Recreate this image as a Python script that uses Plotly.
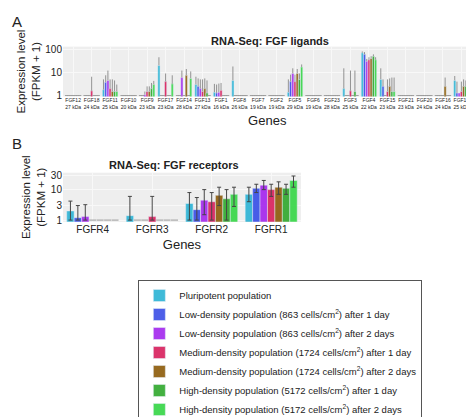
import plotly.graph_objects as go

series = ["Pluripotent population",
          "Low-density population (863 cells/cm<sup>2</sup>) after 1 day",
          "Low-density population (863 cells/cm<sup>2</sup>) after 2 days",
          "Medium-density population (1724 cells/cm<sup>2</sup>) after 1 day",
          "Medium-density population (1724 cells/cm<sup>2</sup>) after 2 days",
          "High-density population (5172 cells/cm<sup>2</sup>) after 1 day",
          "High-density population (5172 cells/cm<sup>2</sup>) after 2 days"]
colors = ["#2bb3d4", "#3a4ee6", "#a326ee", "#d81f5c", "#8c5a08", "#2fa82c", "#34d544"]

genes = ["FGF12<br>27 kDa", "FGF18<br>24 kDa", "FGF11<br>25 kDa", "FGF10<br>20 kDa", "FGF9<br>23 kDa",
         "FGF17<br>23 kDa", "FGF14<br>28 kDa", "FGF13<br>27 kDa", "FGF1<br>16 kDa", "FGF8<br>26 kDa",
         "FGF7<br>19 kDa", "FGF2<br>19 kDa", "FGF5<br>29 kDa", "FGF6<br>19 kDa", "FGF23<br>28 kDa",
         "FGF3<br>25 kDa", "FGF4<br>22 kDa", "FGF15<br>23 kDa", "FGF21<br>23 kDa", "FGF20<br>24 kDa",
         "FGF16<br>24 kDa", "FGF19<br>25 kDa"]
# values per gene: [pluri, low1, low2, med1, med2, high1, high2]
lig_val = [
    [1, 1, 1, 1, 1, 1, 1],
    [1, 1, 1, 1.6, 1, 1, 1],
    [1.8, 3.8, 4.5, 2.0, 1.5, 1.5, 1.5],
    [1, 1, 1, 1, 1, 1, 1],
    [1, 1, 1.1, 1.5, 1.5, 2.0, 3.0],
    [20, 1, 1, 4.0, 1, 1, 3.2],
    [1, 1, 6.0, 1, 7.5, 1, 5.5],
    [3.0, 2.5, 2.0, 1.5, 2.0, 1.3, 1],
    [1.4, 1.3, 1.4, 1.7, 1, 1, 1],
    [4.5, 1, 1, 1, 1, 1, 1],
    [1, 1, 1, 1, 1, 1, 1],
    [1, 1, 1, 1, 1, 1, 1],
    [1.4, 4.0, 9.0, 4.0, 9.0, 5.0, 17],
    [1, 1, 1, 1, 1, 1, 1],
    [1, 1, 1, 1, 1, 1, 1],
    [2.0, 1, 1, 1.6, 1, 1.5, 1],
    [70, 60, 30, 35, 40, 50, 35],
    [5.0, 2.5, 1, 1.5, 2.5, 1.5, 1.5],
    [1, 1, 1, 1, 1, 1, 1],
    [1, 1, 1, 1, 1, 1, 1],
    [1, 1, 1, 1, 2.5, 1, 1],
    [4.5, 1.3, 1.3, 1.5, 2.5, 2.5, 2.5],
]
lig_up = [
    [1, 1, 1, 1, 1, 1, 1],
    [1, 1, 1, 6.5, 1, 1, 1],
    [5, 7.5, 12, 5, 5, 4.5, 3],
    [1.6, 1, 1, 1, 1.6, 1, 1.7],
    [1, 1, 1.5, 2.5, 2.5, 3.5, 4.3],
    [45, 1, 1, 9, 1, 1, 7.5],
    [1, 1, 12, 1, 14, 1, 11],
    [6.5, 5.5, 5, 5, 5.5, 4.5, 1],
    [3.2, 3.0, 3.3, 3.5, 1, 1, 1],
    [18, 1, 1, 1, 1, 1, 1],
    [1, 1, 1, 1, 1, 1, 1],
    [1, 1, 1, 1, 1, 1, 1],
    [5, 8, 15, 8, 14, 9, 22],
    [1, 1, 1, 1, 1, 1, 1],
    [1, 1, 1, 1, 1, 1, 1],
    [15, 1, 1, 12, 1, 12, 1],
    [80, 75, 38, 45, 50, 60, 45],
    [15, 5, 1, 5, 5.5, 6, 6],
    [1, 1, 1, 1, 1, 1, 1],
    [1, 1, 1, 1, 1, 1, 1],
    [1, 1, 1, 1, 6, 1, 1],
    [7, 4, 1.3, 4, 5, 4.5, 4],
]

receptors = ["FGFR4", "FGFR3", "FGFR2", "FGFR1"]
rec_val = [
    [2.0, 1.2, 1.3, 1, 1, 1, 1],
    [1.4, 1, 1, 1.3, 1, 1, 1],
    [3.5, 2.2, 4.5, 4.0, 6.5, 5.0, 7.0],
    [7.0, 11, 14, 10, 12, 11, 20],
]
rec_up = [
    [4.2, 3.0, 3.2, 1, 1, 1, 1],
    [6.0, 1, 1, 6.0, 1, 1, 1],
    [8, 5.5, 10, 8, 12, 10, 12],
    [12, 15, 20, 15, 18, 15, 28],
]
rec_lo = [
    [1, 1, 1, 1, 1, 1, 1],
    [1, 1, 1, 1, 1, 1, 1],
    [1, 1, 1.5, 1, 3, 1, 2.8],
    [4, 8, 10, 6, 7, 7, 12],
]

fig = go.Figure()
W_A, W_B = 0.12, 0.125


def add_panel(names, vals, ups, los, w, xa, ya, show, dash):
    for j in range(7):
        xs, ys, ep, em, zx = [], [], [], [], []
        for i in range(len(names)):
            v = vals[i][j]
            x = i + (j - 3) * w
            if v > 1:
                xs.append(x); ys.append(v)
                ep.append(ups[i][j] - v)
                em.append(v - (los[i][j] if los else v))
            else:
                zx.append(x)
                if ups[i][j] > 1:
                    xs.append(x); ys.append(None); ep.append(0); em.append(0)
        fig.add_trace(go.Bar(x=xs, y=ys, width=w, marker_color=colors[j], name=series[j],
                             showlegend=show, xaxis=xa, yaxis=ya, opacity=0.9,
                             error_y=dict(type="data", symmetric=False, array=ep, arrayminus=em,
                                          color="#333" if los else "#888", thickness=1,
                                          width=2 if los else 0)))
        fig.add_trace(go.Scatter(x=zx, y=[1] * len(zx), mode="markers", showlegend=False,
                                 marker=dict(symbol="line-ew", size=dash,
                                             line=dict(color="#999", width=1)),
                                 xaxis=xa, yaxis=ya, hoverinfo="skip"))


add_panel(genes, lig_val, lig_up, None, W_A, "x", "y", True, 2.2)
add_panel(receptors, rec_val, rec_up, rec_lo, W_B, "x2", "y2", False, 5)

fig.update_layout(
    width=474, height=417, margin=dict(l=0, r=0, t=0, b=0),
    paper_bgcolor="white", plot_bgcolor="#eeeeee", barmode="overlay",
    font=dict(family="Liberation Sans, Arial", color="#222"),
    xaxis=dict(domain=[0.116, 0.978], anchor="y", range=[-0.55, 21.55],
               tickvals=list(range(len(genes))), ticktext=genes, tickfont=dict(size=5),
               showgrid=True, gridcolor="#f8f8f8", zeroline=False,
               title=dict(text="Genes", font=dict(size=13), standoff=6)),
    yaxis=dict(domain=[0.758, 0.899], type="log", range=[-0.036, 2.11], anchor="x",
               tickvals=[1, 10, 100], ticktext=["1", "10", "100"], tickfont=dict(size=10),
               gridcolor="#f8f8f8", zeroline=False,
               title=dict(text="Expression level<br>(FPKM + 1)", font=dict(size=11.5), standoff=2)),
    xaxis2=dict(domain=[0.116, 0.618], anchor="y2", range=[-0.5, 3.5],
                tickvals=list(range(4)), ticktext=receptors, tickfont=dict(size=10),
                showgrid=True, gridcolor="#f8f8f8", zeroline=False,
                title=dict(text="Genes", font=dict(size=13), standoff=6)),
    yaxis2=dict(domain=[0.403, 0.542], type="log", range=[-0.054, 1.556], anchor="x2",
                tickvals=[1, 3, 10, 30], ticktext=["1", "3", "10", "30"], tickfont=dict(size=10),
                gridcolor="#f8f8f8", zeroline=False,
                title=dict(text="Expression level<br>(FPKM + 1)", font=dict(size=11.5), standoff=2)),
    legend=dict(x=0.275, y=0.237, xanchor="left", yanchor="top", bordercolor="#555",
                borderwidth=1, font=dict(size=9.5), tracegroupgap=0, itemwidth=30,
                bgcolor="white"),
    annotations=[
        dict(text="<b>RNA-Seq: FGF ligands</b>", x=0.553, y=0.915, xref="paper", yref="paper",
             showarrow=False, font=dict(size=11), yanchor="middle"),
        dict(text="<b>RNA-Seq: FGF receptors</b>", x=0.35, y=0.563, xref="paper", yref="paper",
             showarrow=False, font=dict(size=11), yanchor="middle"),
        dict(text="A", x=0.005, y=1.0, xref="paper", yref="paper", showarrow=False,
             font=dict(size=15), xanchor="left", yanchor="top"),
        dict(text="B", x=0.005, y=0.655, xref="paper", yref="paper", showarrow=False,
             font=dict(size=15), xanchor="left", yanchor="top"),
    ],
)
fig.write_html("out.html")
